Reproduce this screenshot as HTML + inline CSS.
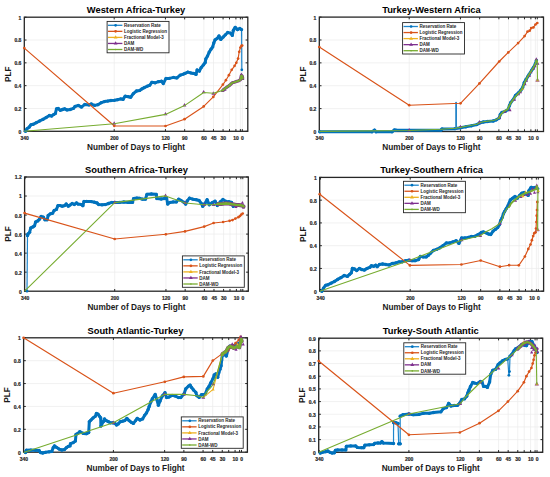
<!DOCTYPE html><html><head><meta charset="utf-8"><style>html,body{margin:0;padding:0;background:#fff;}svg{display:block;}text{font-family:"Liberation Sans",sans-serif;font-weight:bold;}</style></head><body>
<svg width="550" height="477" viewBox="0 0 550 477">
<rect width="550" height="477" fill="#fff"/>
<path d="M24.53,17.20V131.30M114.20,17.20V131.30M165.44,17.20V131.30M184.66,17.20V131.30M203.87,17.20V131.30M213.48,17.20V131.30M223.09,17.20V131.30M229.49,17.20V131.30M235.90,17.20V131.30M240.38,17.20V131.30M242.30,17.20V131.30M24.30,108.48H247.80M24.30,85.66H247.80M24.30,62.84H247.80M24.30,40.02H247.80" stroke="#ebebeb" stroke-width="0.7" fill="none"/>
<rect x="24.30" y="17.20" width="223.50" height="114.10" fill="none" stroke="#262626" stroke-width="1.3"/>
<path d="M24.53,131.30v-2.2M24.53,17.20v2.2M114.20,131.30v-2.2M114.20,17.20v2.2M165.44,131.30v-2.2M165.44,17.20v2.2M184.66,131.30v-2.2M184.66,17.20v2.2M203.87,131.30v-2.2M203.87,17.20v2.2M213.48,131.30v-2.2M213.48,17.20v2.2M223.09,131.30v-2.2M223.09,17.20v2.2M229.49,131.30v-2.2M229.49,17.20v2.2M235.90,131.30v-2.2M235.90,17.20v2.2M240.38,131.30v-2.2M240.38,17.20v2.2M242.30,131.30v-2.2M242.30,17.20v2.2M24.30,131.30h2.2M247.80,131.30h-2.2M24.30,108.48h2.2M247.80,108.48h-2.2M24.30,85.66h2.2M247.80,85.66h-2.2M24.30,62.84h2.2M247.80,62.84h-2.2M24.30,40.02h2.2M247.80,40.02h-2.2M24.30,17.20h2.2M247.80,17.20h-2.2" stroke="#262626" stroke-width="1.0" fill="none"/>
<polyline points="241.6,29.6 241.8,69.6" fill="none" stroke="#1f86cc" stroke-width="1.2" stroke-linejoin="round"/>
<polyline points="25.5,131.3 27.1,128.6 29.3,127.0 30.9,124.8 33.1,124.3 36.4,122.6 39.6,121.0 42.9,119.4 46.2,117.5 49.4,115.5 51.6,116.1 53.8,114.4 55.4,113.4 56.5,108.8 58.2,108.4 60.3,110.3 62.5,109.5 64.7,108.8 66.9,109.9 70.2,109.5 73.4,108.4 75.0,106.5 78.3,105.4 81.5,107.1 84.8,104.4 89.2,104.9 91.4,104.0 94.6,105.4 97.9,104.7 101.2,102.7 104.4,101.6 107.7,101.1 111.0,100.5 114.3,100.3 117.5,99.7 120.8,98.9 123.0,99.4 125.2,96.2 128.4,96.7 130.6,97.3 133.3,93.7 136.5,91.0 139.8,90.4 142.0,88.8 144.2,87.7 147.4,86.1 149.6,85.3 151.8,82.3 155.1,82.8 158.4,81.7 161.6,81.2 163.3,83.6 166.0,78.4 169.3,78.4 173.6,77.4 176.9,77.9 180.2,75.2 183.4,74.1 185.0,73.4 187.9,72.1 190.8,72.9 193.7,73.4 196.0,74.4 197.1,70.0 199.4,71.1 201.1,67.7 203.5,64.8 205.2,62.5 205.8,59.0 207.5,56.1 209.2,52.1 211.0,49.2 212.7,46.9 213.8,42.9 215.0,40.0 217.3,38.3 219.0,36.0 220.8,39.4 223.1,37.1 225.4,34.8 227.7,32.5 230.6,33.1 232.3,35.4 233.4,30.2 235.2,27.3 237.5,29.6 239.8,28.5 241.5,29.6" fill="none" stroke="#0072BD" stroke-width="3.0" stroke-linejoin="round" stroke-linecap="round"/>
<g fill="#0072BD"><circle cx="25.5" cy="131.3" r="1.65"/><circle cx="27.1" cy="128.6" r="1.65"/><circle cx="29.3" cy="127" r="1.65"/><circle cx="30.9" cy="124.8" r="1.65"/><circle cx="33.1" cy="124.3" r="1.65"/><circle cx="36.4" cy="122.6" r="1.65"/><circle cx="39.6" cy="121" r="1.65"/><circle cx="42.9" cy="119.4" r="1.65"/><circle cx="46.2" cy="117.5" r="1.65"/><circle cx="49.4" cy="115.5" r="1.65"/><circle cx="51.6" cy="116.1" r="1.65"/><circle cx="53.8" cy="114.4" r="1.65"/><circle cx="55.4" cy="113.4" r="1.65"/><circle cx="56.5" cy="108.8" r="1.65"/><circle cx="58.2" cy="108.4" r="1.65"/><circle cx="60.3" cy="110.3" r="1.65"/><circle cx="62.5" cy="109.5" r="1.65"/><circle cx="64.7" cy="108.8" r="1.65"/><circle cx="66.9" cy="109.9" r="1.65"/><circle cx="70.2" cy="109.5" r="1.65"/><circle cx="73.4" cy="108.4" r="1.65"/><circle cx="75" cy="106.5" r="1.65"/><circle cx="78.3" cy="105.4" r="1.65"/><circle cx="81.5" cy="107.1" r="1.65"/><circle cx="84.8" cy="104.4" r="1.65"/><circle cx="89.2" cy="104.9" r="1.65"/><circle cx="91.4" cy="104" r="1.65"/><circle cx="94.6" cy="105.4" r="1.65"/><circle cx="97.9" cy="104.7" r="1.65"/><circle cx="101.2" cy="102.7" r="1.65"/><circle cx="104.4" cy="101.6" r="1.65"/><circle cx="107.7" cy="101.1" r="1.65"/><circle cx="111" cy="100.5" r="1.65"/><circle cx="114.3" cy="100.3" r="1.65"/><circle cx="117.5" cy="99.7" r="1.65"/><circle cx="120.8" cy="98.9" r="1.65"/><circle cx="123" cy="99.4" r="1.65"/><circle cx="125.2" cy="96.2" r="1.65"/><circle cx="128.4" cy="96.7" r="1.65"/><circle cx="130.6" cy="97.3" r="1.65"/><circle cx="133.3" cy="93.7" r="1.65"/><circle cx="136.5" cy="91" r="1.65"/><circle cx="139.8" cy="90.4" r="1.65"/><circle cx="142" cy="88.8" r="1.65"/><circle cx="144.2" cy="87.7" r="1.65"/><circle cx="147.4" cy="86.1" r="1.65"/><circle cx="149.6" cy="85.3" r="1.65"/><circle cx="151.8" cy="82.3" r="1.65"/><circle cx="155.1" cy="82.8" r="1.65"/><circle cx="158.4" cy="81.7" r="1.65"/><circle cx="161.6" cy="81.2" r="1.65"/><circle cx="163.3" cy="83.6" r="1.65"/><circle cx="166" cy="78.4" r="1.65"/><circle cx="169.3" cy="78.4" r="1.65"/><circle cx="173.6" cy="77.4" r="1.65"/><circle cx="176.9" cy="77.9" r="1.65"/><circle cx="180.2" cy="75.2" r="1.65"/><circle cx="183.4" cy="74.1" r="1.65"/><circle cx="185" cy="73.4" r="1.65"/><circle cx="187.9" cy="72.1" r="1.65"/><circle cx="190.8" cy="72.9" r="1.65"/><circle cx="193.7" cy="73.4" r="1.65"/><circle cx="196" cy="74.4" r="1.65"/><circle cx="197.1" cy="70" r="1.65"/><circle cx="199.4" cy="71.1" r="1.65"/><circle cx="201.1" cy="67.7" r="1.65"/><circle cx="203.5" cy="64.8" r="1.65"/><circle cx="205.2" cy="62.5" r="1.65"/><circle cx="205.8" cy="59" r="1.65"/><circle cx="207.5" cy="56.1" r="1.65"/><circle cx="209.2" cy="52.1" r="1.65"/><circle cx="211" cy="49.2" r="1.65"/><circle cx="212.7" cy="46.9" r="1.65"/><circle cx="213.8" cy="42.9" r="1.65"/><circle cx="215" cy="40" r="1.65"/><circle cx="217.3" cy="38.3" r="1.65"/><circle cx="219" cy="36" r="1.65"/><circle cx="220.8" cy="39.4" r="1.65"/><circle cx="223.1" cy="37.1" r="1.65"/><circle cx="225.4" cy="34.8" r="1.65"/><circle cx="227.7" cy="32.5" r="1.65"/><circle cx="230.6" cy="33.1" r="1.65"/><circle cx="232.3" cy="35.4" r="1.65"/><circle cx="233.4" cy="30.2" r="1.65"/><circle cx="235.2" cy="27.3" r="1.65"/><circle cx="237.5" cy="29.6" r="1.65"/><circle cx="239.8" cy="28.5" r="1.65"/><circle cx="241.5" cy="29.6" r="1.65"/></g>
<circle cx="241.8" cy="69.8" r="1.4" fill="#0072BD"/>
<polyline points="24.3,48.1 114.2,125.8 165.5,126.0 184.5,119.2 203.7,106.4 213.3,96.9 222.9,84.6 225.9,80.2 228.9,75.2 231.7,69.8 234.6,65.8 236.3,62.8 238.1,58.6 239.2,51.8 240.4,47.5 241.5,45.8 242.2,45.5" fill="none" stroke="#D95319" stroke-width="1.15" stroke-linejoin="round"/>
<g fill="#D95319"><circle cx="24.3" cy="48.1" r="1.35"/><circle cx="114.2" cy="125.8" r="1.35"/><circle cx="165.5" cy="126" r="1.35"/><circle cx="184.5" cy="119.2" r="1.35"/><circle cx="203.7" cy="106.4" r="1.35"/><circle cx="213.3" cy="96.9" r="1.35"/><circle cx="222.9" cy="84.6" r="1.35"/><circle cx="225.9" cy="80.2" r="1.35"/><circle cx="228.9" cy="75.2" r="1.35"/><circle cx="231.7" cy="69.8" r="1.35"/><circle cx="234.6" cy="65.8" r="1.35"/><circle cx="236.3" cy="62.8" r="1.35"/><circle cx="238.1" cy="58.6" r="1.35"/><circle cx="239.2" cy="51.8" r="1.35"/><circle cx="240.4" cy="47.5" r="1.35"/><circle cx="241.5" cy="45.8" r="1.35"/><circle cx="242.2" cy="45.5" r="1.35"/></g>
<polyline points="222.7,90.4 225.0,88.5 228.0,86.4 230.5,84.5 232.2,82.8 234.3,82.2 236.4,81.5 238.9,80.7 240.6,79.6 241.0,77.1 241.4,75.5 242.3,76.3 242.7,78.4" fill="none" stroke="#7E2F8E" stroke-width="3.2" stroke-linejoin="round" stroke-linecap="round"/>
<g fill="#7E2F8E"><path d="M241.4,72.5L243.0,75.4L239.8,75.4Z"/><path d="M242.8,77.1L244.4,80.0L241.2,80.0Z"/><path d="M229.0,84.1L230.6,87.0L227.4,87.0Z"/><path d="M225.0,87.8L226.6,90.7L223.4,90.7Z"/></g>
<g fill="#EDB120"></g>
<g fill="#EDB120"></g>
<g fill="#7E2F8E"><path d="M114.2,121.2L116.1,124.6L112.3,124.6Z"/><path d="M165.5,111.9L167.4,115.3L163.6,115.3Z"/><path d="M184.5,103.0L186.4,106.4L182.6,106.4Z"/><path d="M203.7,89.9L205.6,93.3L201.8,93.3Z"/><path d="M213.3,91.3L215.2,94.7L211.4,94.7Z"/><path d="M222.7,88.3L224.6,91.7L220.8,91.7Z"/></g>
<polyline points="24.3,131.3 114.2,123.8 165.5,114.4 184.5,105.6 203.7,92.5 213.3,93.3 222.7,90.4" fill="none" stroke="#77AC30" stroke-width="1.1" stroke-linejoin="round"/>
<polyline points="222.7,90.4 225.0,88.5 228.0,86.4 230.5,84.5 232.2,82.8 234.3,82.2 236.4,81.5 238.9,80.7 240.6,79.6 241.0,77.1 241.4,75.5 242.3,76.3 242.7,78.4" fill="none" stroke="#77AC30" stroke-width="2.2" stroke-linejoin="round" stroke-linecap="round"/>
<g font-size="5" fill="#262626" stroke="#262626" stroke-width="0.18"><text x="24.73" y="139.60" text-anchor="middle">340</text><text x="114.40" y="139.60" text-anchor="middle">200</text><text x="165.64" y="139.60" text-anchor="middle">120</text><text x="184.86" y="139.60" text-anchor="middle">90</text><text x="204.07" y="139.60" text-anchor="middle">60</text><text x="213.68" y="139.60" text-anchor="middle">45</text><text x="223.28" y="139.60" text-anchor="middle">30</text><text x="236.09" y="139.60" text-anchor="middle">10</text><text x="242.50" y="139.60" text-anchor="middle">0</text><text x="21.40" y="133.75" text-anchor="end">0</text><text x="21.40" y="110.93" text-anchor="end">0.2</text><text x="21.40" y="88.11" text-anchor="end">0.4</text><text x="21.40" y="65.29" text-anchor="end">0.6</text><text x="21.40" y="42.47" text-anchor="end">0.8</text><text x="21.40" y="19.65" text-anchor="end">1</text></g>
<text x="136.05" y="13.20" font-size="9.35" text-anchor="middle" fill="#000">Western Africa-Turkey</text>
<text x="136.05" y="149.70" font-size="8.25" text-anchor="middle" fill="#1a1a1a">Number of Days to Flight</text>
<text x="0" y="0" font-size="8.2" text-anchor="middle" fill="#1a1a1a" transform="translate(10.70,74.25) rotate(-90)">PLF</text>
<rect x="107.1" y="21.4" width="61.9" height="31.4" fill="#fff" stroke="#262626" stroke-width="0.9"/>
<line x1="108.00" y1="25.30" x2="122.40" y2="25.30" stroke="#1f86cc" stroke-width="1.3"/>
<circle cx="115.60" cy="25.30" r="1.35" fill="#0072BD"/>
<text x="124.00" y="26.90" font-size="4.5" fill="#262626">Reservation Rate</text>
<line x1="108.00" y1="31.35" x2="122.40" y2="31.35" stroke="#D95319" stroke-width="1.3"/>
<circle cx="115.60" cy="31.35" r="1.35" fill="#D95319"/>
<text x="124.00" y="32.95" font-size="4.5" fill="#262626">Logistic Regression</text>
<line x1="108.00" y1="37.40" x2="122.40" y2="37.40" stroke="#EDB120" stroke-width="1.3"/>
<path d="M115.6,35.2L117.5,38.6L113.7,38.6Z" fill="#EDB120"/>
<text x="124.00" y="39.00" font-size="4.5" fill="#262626">Fractional Model-3</text>
<line x1="108.00" y1="43.45" x2="122.40" y2="43.45" stroke="#7E2F8E" stroke-width="1.3"/>
<path d="M115.6,41.2L117.5,44.6L113.7,44.6Z" fill="#7E2F8E"/>
<text x="124.00" y="45.05" font-size="4.5" fill="#262626">DAM</text>
<line x1="108.00" y1="49.50" x2="122.40" y2="49.50" stroke="#77AC30" stroke-width="1.3"/>
<circle cx="115.60" cy="49.50" r="0.8" fill="#77AC30"/>
<text x="124.00" y="51.10" font-size="4.5" fill="#262626">DAM-WD</text>
<path d="M319.53,17.10V131.50M409.20,17.10V131.50M460.44,17.10V131.50M479.65,17.10V131.50M498.87,17.10V131.50M508.48,17.10V131.50M518.08,17.10V131.50M524.49,17.10V131.50M530.89,17.10V131.50M535.38,17.10V131.50M537.30,17.10V131.50M319.30,108.62H543.50M319.30,85.74H543.50M319.30,62.86H543.50M319.30,39.98H543.50" stroke="#ebebeb" stroke-width="0.7" fill="none"/>
<rect x="319.30" y="17.10" width="224.20" height="114.40" fill="none" stroke="#262626" stroke-width="1.3"/>
<path d="M319.53,131.50v-2.2M319.53,17.10v2.2M409.20,131.50v-2.2M409.20,17.10v2.2M460.44,131.50v-2.2M460.44,17.10v2.2M479.65,131.50v-2.2M479.65,17.10v2.2M498.87,131.50v-2.2M498.87,17.10v2.2M508.48,131.50v-2.2M508.48,17.10v2.2M518.08,131.50v-2.2M518.08,17.10v2.2M524.49,131.50v-2.2M524.49,17.10v2.2M530.89,131.50v-2.2M530.89,17.10v2.2M535.38,131.50v-2.2M535.38,17.10v2.2M537.30,131.50v-2.2M537.30,17.10v2.2M319.30,131.50h2.2M543.50,131.50h-2.2M319.30,108.62h2.2M543.50,108.62h-2.2M319.30,85.74h2.2M543.50,85.74h-2.2M319.30,62.86h2.2M543.50,62.86h-2.2M319.30,39.98h2.2M543.50,39.98h-2.2M319.30,17.10h2.2M543.50,17.10h-2.2" stroke="#262626" stroke-width="1.0" fill="none"/>
<polyline points="319.8,131.8 372.0,131.8 374.6,130.1 376.0,131.8 392.0,131.8 394.4,130.0 396.0,130.2 441.0,130.2 442.0,128.9 455.0,128.7 460.5,127.8 465.9,126.8 471.4,125.8 476.8,124.6 479.5,123.0 483.4,122.0 487.7,121.5 493.2,121.0 496.4,119.8 499.2,118.0 500.3,114.5 501.9,112.4 505.2,111.3 508.0,109.6 509.5,105.5 510.6,102.7 513.4,99.3 515.5,95.5 518.4,93.0 521.0,90.0 522.6,87.6 524.3,82.5 526.0,79.5 527.7,76.7 529.2,74.3 531.8,70.1 533.4,67.6 535.5,63.4 536.4,60.5" fill="none" stroke="#0072BD" stroke-width="3.0" stroke-linejoin="round" stroke-linecap="round"/>
<g fill="#0072BD"><circle cx="319.8" cy="131.8" r="1.65"/><circle cx="372" cy="131.8" r="1.65"/><circle cx="374.6" cy="130.1" r="1.65"/><circle cx="376" cy="131.8" r="1.65"/><circle cx="392" cy="131.8" r="1.65"/><circle cx="394.4" cy="130" r="1.65"/><circle cx="396" cy="130.2" r="1.65"/><circle cx="441" cy="130.2" r="1.65"/><circle cx="442" cy="128.9" r="1.65"/><circle cx="455" cy="128.7" r="1.65"/><circle cx="460.5" cy="127.8" r="1.65"/><circle cx="465.9" cy="126.8" r="1.65"/><circle cx="471.4" cy="125.8" r="1.65"/><circle cx="476.8" cy="124.6" r="1.65"/><circle cx="479.5" cy="123" r="1.65"/><circle cx="483.4" cy="122" r="1.65"/><circle cx="487.7" cy="121.5" r="1.65"/><circle cx="493.2" cy="121" r="1.65"/><circle cx="496.4" cy="119.8" r="1.65"/><circle cx="499.2" cy="118" r="1.65"/><circle cx="500.3" cy="114.5" r="1.65"/><circle cx="501.9" cy="112.4" r="1.65"/><circle cx="505.2" cy="111.3" r="1.65"/><circle cx="508" cy="109.6" r="1.65"/><circle cx="509.5" cy="105.5" r="1.65"/><circle cx="510.6" cy="102.7" r="1.65"/><circle cx="513.4" cy="99.3" r="1.65"/><circle cx="515.5" cy="95.5" r="1.65"/><circle cx="518.4" cy="93" r="1.65"/><circle cx="521" cy="90" r="1.65"/><circle cx="522.6" cy="87.6" r="1.65"/><circle cx="524.3" cy="82.5" r="1.65"/><circle cx="526" cy="79.5" r="1.65"/><circle cx="527.7" cy="76.7" r="1.65"/><circle cx="529.2" cy="74.3" r="1.65"/><circle cx="531.8" cy="70.1" r="1.65"/><circle cx="533.4" cy="67.6" r="1.65"/><circle cx="535.5" cy="63.4" r="1.65"/><circle cx="536.4" cy="60.5" r="1.65"/></g>
<polyline points="456.1,129.0 456.1,102.6" fill="none" stroke="#1a7fc6" stroke-width="1.7" stroke-linecap="round"/>
<polyline points="319.3,47.0 409.2,105.2 460.5,103.3 479.5,83.4 499.2,61.5 508.3,52.4 518.1,43.1 524.6,36.1 527.5,31.7 529.7,30.7 531.2,28.1 533.4,27.4 535.5,24.5 537.3,23.0" fill="none" stroke="#D95319" stroke-width="1.15" stroke-linejoin="round"/>
<g fill="#D95319"><circle cx="319.3" cy="47" r="1.35"/><circle cx="409.2" cy="105.2" r="1.35"/><circle cx="460.5" cy="103.3" r="1.35"/><circle cx="479.5" cy="83.4" r="1.35"/><circle cx="499.2" cy="61.5" r="1.35"/><circle cx="508.3" cy="52.4" r="1.35"/><circle cx="518.1" cy="43.1" r="1.35"/><circle cx="524.6" cy="36.1" r="1.35"/><circle cx="527.5" cy="31.7" r="1.35"/><circle cx="529.7" cy="30.7" r="1.35"/><circle cx="531.2" cy="28.1" r="1.35"/><circle cx="533.4" cy="27.4" r="1.35"/><circle cx="535.5" cy="24.5" r="1.35"/><circle cx="537.3" cy="23" r="1.35"/></g>
<g fill="#7E2F8E"><path d="M505.0,109.8L506.6,112.7L503.4,112.7Z"/><path d="M510.0,108.3L511.6,111.2L508.4,111.2Z"/><path d="M514.5,97.8L516.1,100.7L512.9,100.7Z"/><path d="M518.5,92.3L520.1,95.2L516.9,95.2Z"/><path d="M520.5,90.3L522.1,93.2L518.9,93.2Z"/><path d="M525.0,82.3L526.6,85.2L523.4,85.2Z"/><path d="M526.5,78.8L528.1,81.7L524.9,81.7Z"/><path d="M529.5,73.8L531.1,76.7L527.9,76.7Z"/><path d="M531.0,70.3L532.6,73.2L529.4,73.2Z"/><path d="M533.5,66.8L535.1,69.7L531.9,69.7Z"/><path d="M535.0,64.3L536.6,67.2L533.4,67.2Z"/><path d="M536.3,57.3L537.9,60.2L534.7,60.2Z"/><path d="M537.8,61.8L539.4,64.7L536.2,64.7Z"/></g>
<g fill="#EDB120"><path d="M522.5,86.8L524.1,89.7L520.9,89.7Z"/></g>
<g fill="#EDB120"></g>
<g fill="#7E2F8E"><path d="M409.2,128.0L411.1,131.4L407.3,131.4Z"/><path d="M460.5,124.7L462.4,128.1L458.6,128.1Z"/><path d="M479.5,120.1L481.4,123.5L477.6,123.5Z"/><path d="M499.2,115.3L501.1,118.7L497.3,118.7Z"/></g>
<polyline points="319.3,131.4 409.2,130.5 441.0,129.2 455.0,128.2 460.5,127.4 465.9,126.3 471.4,125.3 476.8,124.2 479.5,122.7 483.4,121.8 487.7,121.1 493.2,120.5 496.4,119.4 499.2,117.8" fill="none" stroke="#77AC30" stroke-width="1.1" stroke-linejoin="round"/>
<polyline points="499.2,117.8 500.5,114.8 504.2,111.0 507.5,109.4 509.2,106.0 510.9,102.7 513.4,99.3 515.9,96.0 518.4,93.4 521.0,90.5 522.6,87.6 524.3,83.4 526.0,80.0 527.7,76.7 529.2,74.3 531.8,70.1 533.4,67.6 535.5,63.4 536.4,60.0 537.2,61.7" fill="none" stroke="#77AC30" stroke-width="1.7" stroke-linejoin="round" stroke-linecap="round"/>
<path d="M537.5,78.2L539.3,81.4L535.7,81.4Z" fill="#EDB120" stroke="#7E2F8E" stroke-width="0.5"/>
<path d="M537.2,61.7L537.5,80.1" stroke="#77AC30" stroke-width="1.1"/>
<circle cx="537.5" cy="80.1" r="0.7" fill="#77AC30"/>
<g font-size="5" fill="#262626" stroke="#262626" stroke-width="0.18"><text x="319.73" y="139.80" text-anchor="middle">340</text><text x="409.40" y="139.80" text-anchor="middle">200</text><text x="460.64" y="139.80" text-anchor="middle">120</text><text x="479.85" y="139.80" text-anchor="middle">90</text><text x="499.07" y="139.80" text-anchor="middle">60</text><text x="508.68" y="139.80" text-anchor="middle">45</text><text x="518.28" y="139.80" text-anchor="middle">30</text><text x="531.10" y="139.80" text-anchor="middle">10</text><text x="537.50" y="139.80" text-anchor="middle">0</text><text x="316.40" y="133.95" text-anchor="end">0</text><text x="316.40" y="111.07" text-anchor="end">0.2</text><text x="316.40" y="88.19" text-anchor="end">0.4</text><text x="316.40" y="65.31" text-anchor="end">0.6</text><text x="316.40" y="42.43" text-anchor="end">0.8</text><text x="316.40" y="19.55" text-anchor="end">1</text></g>
<text x="431.40" y="13.10" font-size="9.35" text-anchor="middle" fill="#000">Turkey-Western Africa</text>
<text x="431.40" y="149.90" font-size="8.25" text-anchor="middle" fill="#1a1a1a">Number of Days to Flight</text>
<text x="0" y="0" font-size="8.2" text-anchor="middle" fill="#1a1a1a" transform="translate(305.70,74.30) rotate(-90)">PLF</text>
<rect x="402.6" y="22.6" width="61.9" height="31.4" fill="#fff" stroke="#262626" stroke-width="0.9"/>
<line x1="403.50" y1="26.50" x2="417.90" y2="26.50" stroke="#1f86cc" stroke-width="1.3"/>
<circle cx="411.10" cy="26.50" r="1.35" fill="#0072BD"/>
<text x="419.50" y="28.10" font-size="4.5" fill="#262626">Reservation Rate</text>
<line x1="403.50" y1="32.55" x2="417.90" y2="32.55" stroke="#D95319" stroke-width="1.3"/>
<circle cx="411.10" cy="32.55" r="1.35" fill="#D95319"/>
<text x="419.50" y="34.15" font-size="4.5" fill="#262626">Logistic Regression</text>
<line x1="403.50" y1="38.60" x2="417.90" y2="38.60" stroke="#EDB120" stroke-width="1.3"/>
<path d="M411.1,36.4L413.0,39.8L409.2,39.8Z" fill="#EDB120"/>
<text x="419.50" y="40.20" font-size="4.5" fill="#262626">Fractional Model-3</text>
<line x1="403.50" y1="44.65" x2="417.90" y2="44.65" stroke="#7E2F8E" stroke-width="1.3"/>
<path d="M411.1,42.4L413.0,45.8L409.2,45.8Z" fill="#7E2F8E"/>
<text x="419.50" y="46.25" font-size="4.5" fill="#262626">DAM</text>
<line x1="403.50" y1="50.70" x2="417.90" y2="50.70" stroke="#77AC30" stroke-width="1.3"/>
<circle cx="411.10" cy="50.70" r="0.8" fill="#77AC30"/>
<text x="419.50" y="52.30" font-size="4.5" fill="#262626">DAM-WD</text>
<path d="M25.03,177.00V291.20M114.70,177.00V291.20M165.94,177.00V291.20M185.16,177.00V291.20M204.37,177.00V291.20M213.98,177.00V291.20M223.59,177.00V291.20M229.99,177.00V291.20M236.40,177.00V291.20M240.88,177.00V291.20M242.80,177.00V291.20M24.60,272.17H248.30M24.60,253.13H248.30M24.60,234.10H248.30M24.60,215.07H248.30M24.60,196.03H248.30" stroke="#ebebeb" stroke-width="0.7" fill="none"/>
<rect x="24.60" y="177.00" width="223.70" height="114.20" fill="none" stroke="#262626" stroke-width="1.3"/>
<path d="M25.03,291.20v-2.2M25.03,177.00v2.2M114.70,291.20v-2.2M114.70,177.00v2.2M165.94,291.20v-2.2M165.94,177.00v2.2M185.16,291.20v-2.2M185.16,177.00v2.2M204.37,291.20v-2.2M204.37,177.00v2.2M213.98,291.20v-2.2M213.98,177.00v2.2M223.59,291.20v-2.2M223.59,177.00v2.2M229.99,291.20v-2.2M229.99,177.00v2.2M236.40,291.20v-2.2M236.40,177.00v2.2M240.88,291.20v-2.2M240.88,177.00v2.2M242.80,291.20v-2.2M242.80,177.00v2.2M24.60,291.20h2.2M248.30,291.20h-2.2M24.60,272.17h2.2M248.30,272.17h-2.2M24.60,253.13h2.2M248.30,253.13h-2.2M24.60,234.10h2.2M248.30,234.10h-2.2M24.60,215.07h2.2M248.30,215.07h-2.2M24.60,196.03h2.2M248.30,196.03h-2.2M24.60,177.00h2.2M248.30,177.00h-2.2" stroke="#262626" stroke-width="1.0" fill="none"/>
<polyline points="27.0,291.3 27.5,235.6" fill="none" stroke="#1f86cc" stroke-width="1.2" stroke-linejoin="round"/>
<polyline points="27.5,235.6 28.0,234.0 29.6,232.3 30.7,228.0 32.9,226.9 34.5,225.8 35.6,222.0 37.8,220.9 39.4,219.3 41.1,216.5 43.3,217.1 44.9,219.8 47.1,219.8 48.2,215.4 50.4,213.8 52.5,213.3 54.2,210.5 56.4,209.4 58.0,205.6 60.2,205.6 62.3,206.2 64.5,205.6 66.2,204.0 68.3,206.2 70.0,205.1 72.2,203.5 74.3,204.5 76.5,202.9 78.0,204.1 81.3,204.6 82.9,205.7 84.0,201.4 86.7,201.4 91.1,201.6 94.4,202.2 97.1,203.0 98.7,204.6 102.0,204.8 105.3,204.6 108.5,203.5 111.8,202.4 115.1,202.4 119.4,202.4 123.8,201.9 128.2,202.4 132.5,202.4 133.6,198.6 136.9,198.1 139.4,198.3 142.6,199.2 145.4,199.2 147.0,194.3 151.4,193.9 156.3,194.3 156.8,198.6 161.2,199.0 164.4,198.6 166.6,198.1 167.7,204.1 169.9,202.4 173.2,201.9 176.4,201.9 178.6,199.2 180.8,200.3 184.1,202.4 185.7,204.1 187.3,200.8 189.5,198.1 192.8,199.2 196.2,199.7 199.1,200.5 201.3,203.4 202.7,206.3 204.9,203.4 207.1,199.7 209.3,204.8 212.2,202.6 215.1,201.2 217.3,205.5 218.5,203.5 220.7,201.5 222.9,199.5 226.2,201.5 228.9,201.7 231.6,202.5 233.3,206.4" fill="none" stroke="#0072BD" stroke-width="3.0" stroke-linejoin="round" stroke-linecap="round"/>
<g fill="#0072BD"><circle cx="27.5" cy="235.6" r="1.65"/><circle cx="28" cy="234" r="1.65"/><circle cx="29.6" cy="232.3" r="1.65"/><circle cx="30.7" cy="228" r="1.65"/><circle cx="32.9" cy="226.9" r="1.65"/><circle cx="34.5" cy="225.8" r="1.65"/><circle cx="35.6" cy="222" r="1.65"/><circle cx="37.8" cy="220.9" r="1.65"/><circle cx="39.4" cy="219.3" r="1.65"/><circle cx="41.1" cy="216.5" r="1.65"/><circle cx="43.3" cy="217.1" r="1.65"/><circle cx="44.9" cy="219.8" r="1.65"/><circle cx="47.1" cy="219.8" r="1.65"/><circle cx="48.2" cy="215.4" r="1.65"/><circle cx="50.4" cy="213.8" r="1.65"/><circle cx="52.5" cy="213.3" r="1.65"/><circle cx="54.2" cy="210.5" r="1.65"/><circle cx="56.4" cy="209.4" r="1.65"/><circle cx="58" cy="205.6" r="1.65"/><circle cx="60.2" cy="205.6" r="1.65"/><circle cx="62.3" cy="206.2" r="1.65"/><circle cx="64.5" cy="205.6" r="1.65"/><circle cx="66.2" cy="204" r="1.65"/><circle cx="68.3" cy="206.2" r="1.65"/><circle cx="70" cy="205.1" r="1.65"/><circle cx="72.2" cy="203.5" r="1.65"/><circle cx="74.3" cy="204.5" r="1.65"/><circle cx="76.5" cy="202.9" r="1.65"/><circle cx="78" cy="204.1" r="1.65"/><circle cx="81.3" cy="204.6" r="1.65"/><circle cx="82.9" cy="205.7" r="1.65"/><circle cx="84" cy="201.4" r="1.65"/><circle cx="86.7" cy="201.4" r="1.65"/><circle cx="91.1" cy="201.6" r="1.65"/><circle cx="94.4" cy="202.2" r="1.65"/><circle cx="97.1" cy="203" r="1.65"/><circle cx="98.7" cy="204.6" r="1.65"/><circle cx="102" cy="204.8" r="1.65"/><circle cx="105.3" cy="204.6" r="1.65"/><circle cx="108.5" cy="203.5" r="1.65"/><circle cx="111.8" cy="202.4" r="1.65"/><circle cx="115.1" cy="202.4" r="1.65"/><circle cx="119.4" cy="202.4" r="1.65"/><circle cx="123.8" cy="201.9" r="1.65"/><circle cx="128.2" cy="202.4" r="1.65"/><circle cx="132.5" cy="202.4" r="1.65"/><circle cx="133.6" cy="198.6" r="1.65"/><circle cx="136.9" cy="198.1" r="1.65"/><circle cx="139.4" cy="198.3" r="1.65"/><circle cx="142.6" cy="199.2" r="1.65"/><circle cx="145.4" cy="199.2" r="1.65"/><circle cx="147" cy="194.3" r="1.65"/><circle cx="151.4" cy="193.9" r="1.65"/><circle cx="156.3" cy="194.3" r="1.65"/><circle cx="156.8" cy="198.6" r="1.65"/><circle cx="161.2" cy="199" r="1.65"/><circle cx="164.4" cy="198.6" r="1.65"/><circle cx="166.6" cy="198.1" r="1.65"/><circle cx="167.7" cy="204.1" r="1.65"/><circle cx="169.9" cy="202.4" r="1.65"/><circle cx="173.2" cy="201.9" r="1.65"/><circle cx="176.4" cy="201.9" r="1.65"/><circle cx="178.6" cy="199.2" r="1.65"/><circle cx="180.8" cy="200.3" r="1.65"/><circle cx="184.1" cy="202.4" r="1.65"/><circle cx="185.7" cy="204.1" r="1.65"/><circle cx="187.3" cy="200.8" r="1.65"/><circle cx="189.5" cy="198.1" r="1.65"/><circle cx="192.8" cy="199.2" r="1.65"/><circle cx="196.2" cy="199.7" r="1.65"/><circle cx="199.1" cy="200.5" r="1.65"/><circle cx="201.3" cy="203.4" r="1.65"/><circle cx="202.7" cy="206.3" r="1.65"/><circle cx="204.9" cy="203.4" r="1.65"/><circle cx="207.1" cy="199.7" r="1.65"/><circle cx="209.3" cy="204.8" r="1.65"/><circle cx="212.2" cy="202.6" r="1.65"/><circle cx="215.1" cy="201.2" r="1.65"/><circle cx="217.3" cy="205.5" r="1.65"/><circle cx="218.5" cy="203.5" r="1.65"/><circle cx="220.7" cy="201.5" r="1.65"/><circle cx="222.9" cy="199.5" r="1.65"/><circle cx="226.2" cy="201.5" r="1.65"/><circle cx="228.9" cy="201.7" r="1.65"/><circle cx="231.6" cy="202.5" r="1.65"/><circle cx="233.3" cy="206.4" r="1.65"/></g>
<circle cx="27" cy="291.2" r="1.4" fill="#0072BD"/>
<polyline points="24.6,213.1 114.7,239.0 165.8,234.3 185.0,231.4 204.2,226.6 213.6,223.0 223.1,222.0 229.6,220.8 232.5,220.1 235.4,218.6 238.4,217.2 240.0,216.0 241.3,214.6 242.7,213.5" fill="none" stroke="#D95319" stroke-width="1.15" stroke-linejoin="round"/>
<g fill="#D95319"><circle cx="24.6" cy="213.1" r="1.35"/><circle cx="114.7" cy="239" r="1.35"/><circle cx="165.8" cy="234.3" r="1.35"/><circle cx="185" cy="231.4" r="1.35"/><circle cx="204.2" cy="226.6" r="1.35"/><circle cx="213.6" cy="223" r="1.35"/><circle cx="223.1" cy="222" r="1.35"/><circle cx="229.6" cy="220.8" r="1.35"/><circle cx="232.5" cy="220.1" r="1.35"/><circle cx="235.4" cy="218.6" r="1.35"/><circle cx="238.4" cy="217.2" r="1.35"/><circle cx="240" cy="216" r="1.35"/><circle cx="241.3" cy="214.6" r="1.35"/><circle cx="242.7" cy="213.5" r="1.35"/></g>
<polyline points="218.0,203.9 221.3,203.9 224.5,203.6 228.9,203.6 232.2,204.2 235.5,204.7 238.7,205.0 242.0,205.5 243.6,206.4" fill="none" stroke="#7E2F8E" stroke-width="4.0" stroke-linejoin="round" stroke-linecap="round"/>
<g fill="#7E2F8E"><path d="M242.4,200.9L244.0,203.8L240.8,203.8Z"/><path d="M243.4,205.5L245.0,208.4L241.8,208.4Z"/><path d="M236.0,205.1L237.6,208.0L234.4,208.0Z"/></g>
<g fill="#EDB120"><path d="M226.0,201.6L227.6,204.5L224.4,204.5Z"/></g>
<g fill="#EDB120"></g>
<g fill="#7E2F8E"><path d="M114.7,200.3L116.6,203.7L112.8,203.7Z"/><path d="M165.5,193.6L167.4,197.0L163.6,197.0Z"/><path d="M185.2,200.7L187.1,204.1L183.3,204.1Z"/><path d="M204.2,202.5L206.1,205.9L202.3,205.9Z"/><path d="M213.6,202.5L215.5,205.9L211.7,205.9Z"/></g>
<polyline points="24.6,291.2 114.7,202.6 165.5,195.9 185.2,203.0 204.2,204.8 213.6,204.8 218.0,203.9" fill="none" stroke="#77AC30" stroke-width="1.1" stroke-linejoin="round"/>
<polyline points="218.0,203.9 221.3,203.9 224.5,203.6 228.9,203.6 232.2,204.2 235.5,204.7 238.7,205.0 242.0,205.5 243.6,206.4" fill="none" stroke="#77AC30" stroke-width="2.6" stroke-linejoin="round" stroke-linecap="round"/>
<g font-size="5" fill="#262626" stroke="#262626" stroke-width="0.18"><text x="25.23" y="299.50" text-anchor="middle">340</text><text x="114.90" y="299.50" text-anchor="middle">200</text><text x="166.14" y="299.50" text-anchor="middle">120</text><text x="185.36" y="299.50" text-anchor="middle">90</text><text x="204.57" y="299.50" text-anchor="middle">60</text><text x="214.18" y="299.50" text-anchor="middle">45</text><text x="223.78" y="299.50" text-anchor="middle">30</text><text x="236.59" y="299.50" text-anchor="middle">10</text><text x="243.00" y="299.50" text-anchor="middle">0</text><text x="21.70" y="293.65" text-anchor="end">0</text><text x="21.70" y="274.62" text-anchor="end">0.2</text><text x="21.70" y="255.58" text-anchor="end">0.4</text><text x="21.70" y="236.55" text-anchor="end">0.6</text><text x="21.70" y="217.52" text-anchor="end">0.8</text><text x="21.70" y="198.48" text-anchor="end">1</text><text x="21.70" y="179.45" text-anchor="end">1.2</text></g>
<text x="136.45" y="173.00" font-size="9.35" text-anchor="middle" fill="#000">Southern Africa-Turkey</text>
<text x="136.45" y="309.60" font-size="8.25" text-anchor="middle" fill="#1a1a1a">Number of Days to Flight</text>
<text x="0" y="0" font-size="8.2" text-anchor="middle" fill="#1a1a1a" transform="translate(11.00,234.10) rotate(-90)">PLF</text>
<rect x="182.4" y="255.9" width="61.9" height="31.4" fill="#fff" stroke="#262626" stroke-width="0.9"/>
<line x1="183.30" y1="259.80" x2="197.70" y2="259.80" stroke="#1f86cc" stroke-width="1.3"/>
<circle cx="190.90" cy="259.80" r="1.35" fill="#0072BD"/>
<text x="199.30" y="261.40" font-size="4.5" fill="#262626">Reservation Rate</text>
<line x1="183.30" y1="265.85" x2="197.70" y2="265.85" stroke="#D95319" stroke-width="1.3"/>
<circle cx="190.90" cy="265.85" r="1.35" fill="#D95319"/>
<text x="199.30" y="267.45" font-size="4.5" fill="#262626">Logistic Regression</text>
<line x1="183.30" y1="271.90" x2="197.70" y2="271.90" stroke="#EDB120" stroke-width="1.3"/>
<path d="M190.9,269.7L192.8,273.1L189.0,273.1Z" fill="#EDB120"/>
<text x="199.30" y="273.50" font-size="4.5" fill="#262626">Fractional Model-3</text>
<line x1="183.30" y1="277.95" x2="197.70" y2="277.95" stroke="#7E2F8E" stroke-width="1.3"/>
<path d="M190.9,275.8L192.8,279.1L189.0,279.1Z" fill="#7E2F8E"/>
<text x="199.30" y="279.55" font-size="4.5" fill="#262626">DAM</text>
<line x1="183.30" y1="284.00" x2="197.70" y2="284.00" stroke="#77AC30" stroke-width="1.3"/>
<circle cx="190.90" cy="284.00" r="0.8" fill="#77AC30"/>
<text x="199.30" y="285.60" font-size="4.5" fill="#262626">DAM-WD</text>
<path d="M320.53,177.40V291.20M410.20,177.40V291.20M461.44,177.40V291.20M480.65,177.40V291.20M499.87,177.40V291.20M509.48,177.40V291.20M519.08,177.40V291.20M525.49,177.40V291.20M531.89,177.40V291.20M536.38,177.40V291.20M538.30,177.40V291.20M319.70,268.44H543.60M319.70,245.68H543.60M319.70,222.92H543.60M319.70,200.16H543.60" stroke="#ebebeb" stroke-width="0.7" fill="none"/>
<rect x="319.70" y="177.40" width="223.90" height="113.80" fill="none" stroke="#262626" stroke-width="1.3"/>
<path d="M320.53,291.20v-2.2M320.53,177.40v2.2M410.20,291.20v-2.2M410.20,177.40v2.2M461.44,291.20v-2.2M461.44,177.40v2.2M480.65,291.20v-2.2M480.65,177.40v2.2M499.87,291.20v-2.2M499.87,177.40v2.2M509.48,291.20v-2.2M509.48,177.40v2.2M519.08,291.20v-2.2M519.08,177.40v2.2M525.49,291.20v-2.2M525.49,177.40v2.2M531.89,291.20v-2.2M531.89,177.40v2.2M536.38,291.20v-2.2M536.38,177.40v2.2M538.30,291.20v-2.2M538.30,177.40v2.2M319.70,291.20h2.2M543.60,291.20h-2.2M319.70,268.44h2.2M543.60,268.44h-2.2M319.70,245.68h2.2M543.60,245.68h-2.2M319.70,222.92h2.2M543.60,222.92h-2.2M319.70,200.16h2.2M543.60,200.16h-2.2M319.70,177.40h2.2M543.60,177.40h-2.2" stroke="#262626" stroke-width="1.0" fill="none"/>
<polyline points="321.8,291.3 323.5,288.1 325.6,285.3 327.8,284.8 331.1,283.2 334.4,281.5 337.6,279.4 340.9,277.7 344.2,275.5 347.4,276.4 349.6,274.4 351.3,272.8 352.4,268.4 354.5,269.0 356.7,270.6 359.4,268.4 361.6,269.5 364.3,270.1 367.1,268.4 369.8,267.4 371.4,265.7 373.6,266.3 375.8,265.2 377.2,266.7 379.4,264.5 382.6,264.0 385.9,264.5 389.2,264.9 392.4,263.4 395.7,262.9 399.0,261.8 402.3,261.8 405.5,260.7 408.8,260.2 412.1,260.7 415.3,260.7 418.6,259.6 420.3,256.4 423.0,256.9 426.3,256.9 428.4,255.3 430.6,253.1 433.3,250.5 436.5,249.4 439.8,247.8 443.1,245.6 446.4,242.9 449.6,242.9 452.9,241.8 456.2,240.7 458.9,243.4 461.6,238.0 464.9,238.0 468.2,237.4 471.4,236.4 474.7,236.4 478.0,234.7 481.3,232.5 483.4,232.0 486.7,233.1 488.5,234.0 490.8,234.5 493.1,231.1 495.4,229.4 497.7,227.6 499.4,224.7 500.6,220.7 502.3,217.3 503.4,213.8 504.6,211.5 506.3,208.6 508.0,205.7 509.2,202.9 510.3,200.0 512.6,198.2 515.0,196.5 517.3,198.2 519.6,195.4 521.9,193.1 524.2,192.5 526.5,194.2 528.2,195.4 528.8,190.8 531.1,187.3 533.4,187.9 535.0,187.5 537.7,188.8" fill="none" stroke="#0072BD" stroke-width="3.0" stroke-linejoin="round" stroke-linecap="round"/>
<g fill="#0072BD"><circle cx="321.8" cy="291.3" r="1.65"/><circle cx="323.5" cy="288.1" r="1.65"/><circle cx="325.6" cy="285.3" r="1.65"/><circle cx="327.8" cy="284.8" r="1.65"/><circle cx="331.1" cy="283.2" r="1.65"/><circle cx="334.4" cy="281.5" r="1.65"/><circle cx="337.6" cy="279.4" r="1.65"/><circle cx="340.9" cy="277.7" r="1.65"/><circle cx="344.2" cy="275.5" r="1.65"/><circle cx="347.4" cy="276.4" r="1.65"/><circle cx="349.6" cy="274.4" r="1.65"/><circle cx="351.3" cy="272.8" r="1.65"/><circle cx="352.4" cy="268.4" r="1.65"/><circle cx="354.5" cy="269" r="1.65"/><circle cx="356.7" cy="270.6" r="1.65"/><circle cx="359.4" cy="268.4" r="1.65"/><circle cx="361.6" cy="269.5" r="1.65"/><circle cx="364.3" cy="270.1" r="1.65"/><circle cx="367.1" cy="268.4" r="1.65"/><circle cx="369.8" cy="267.4" r="1.65"/><circle cx="371.4" cy="265.7" r="1.65"/><circle cx="373.6" cy="266.3" r="1.65"/><circle cx="375.8" cy="265.2" r="1.65"/><circle cx="377.2" cy="266.7" r="1.65"/><circle cx="379.4" cy="264.5" r="1.65"/><circle cx="382.6" cy="264" r="1.65"/><circle cx="385.9" cy="264.5" r="1.65"/><circle cx="389.2" cy="264.9" r="1.65"/><circle cx="392.4" cy="263.4" r="1.65"/><circle cx="395.7" cy="262.9" r="1.65"/><circle cx="399" cy="261.8" r="1.65"/><circle cx="402.3" cy="261.8" r="1.65"/><circle cx="405.5" cy="260.7" r="1.65"/><circle cx="408.8" cy="260.2" r="1.65"/><circle cx="412.1" cy="260.7" r="1.65"/><circle cx="415.3" cy="260.7" r="1.65"/><circle cx="418.6" cy="259.6" r="1.65"/><circle cx="420.3" cy="256.4" r="1.65"/><circle cx="423" cy="256.9" r="1.65"/><circle cx="426.3" cy="256.9" r="1.65"/><circle cx="428.4" cy="255.3" r="1.65"/><circle cx="430.6" cy="253.1" r="1.65"/><circle cx="433.3" cy="250.5" r="1.65"/><circle cx="436.5" cy="249.4" r="1.65"/><circle cx="439.8" cy="247.8" r="1.65"/><circle cx="443.1" cy="245.6" r="1.65"/><circle cx="446.4" cy="242.9" r="1.65"/><circle cx="449.6" cy="242.9" r="1.65"/><circle cx="452.9" cy="241.8" r="1.65"/><circle cx="456.2" cy="240.7" r="1.65"/><circle cx="458.9" cy="243.4" r="1.65"/><circle cx="461.6" cy="238" r="1.65"/><circle cx="464.9" cy="238" r="1.65"/><circle cx="468.2" cy="237.4" r="1.65"/><circle cx="471.4" cy="236.4" r="1.65"/><circle cx="474.7" cy="236.4" r="1.65"/><circle cx="478" cy="234.7" r="1.65"/><circle cx="481.3" cy="232.5" r="1.65"/><circle cx="483.4" cy="232" r="1.65"/><circle cx="486.7" cy="233.1" r="1.65"/><circle cx="488.5" cy="234" r="1.65"/><circle cx="490.8" cy="234.5" r="1.65"/><circle cx="493.1" cy="231.1" r="1.65"/><circle cx="495.4" cy="229.4" r="1.65"/><circle cx="497.7" cy="227.6" r="1.65"/><circle cx="499.4" cy="224.7" r="1.65"/><circle cx="500.6" cy="220.7" r="1.65"/><circle cx="502.3" cy="217.3" r="1.65"/><circle cx="503.4" cy="213.8" r="1.65"/><circle cx="504.6" cy="211.5" r="1.65"/><circle cx="506.3" cy="208.6" r="1.65"/><circle cx="508" cy="205.7" r="1.65"/><circle cx="509.2" cy="202.9" r="1.65"/><circle cx="510.3" cy="200" r="1.65"/><circle cx="512.6" cy="198.2" r="1.65"/><circle cx="515" cy="196.5" r="1.65"/><circle cx="517.3" cy="198.2" r="1.65"/><circle cx="519.6" cy="195.4" r="1.65"/><circle cx="521.9" cy="193.1" r="1.65"/><circle cx="524.2" cy="192.5" r="1.65"/><circle cx="526.5" cy="194.2" r="1.65"/><circle cx="528.2" cy="195.4" r="1.65"/><circle cx="528.8" cy="190.8" r="1.65"/><circle cx="531.1" cy="187.3" r="1.65"/><circle cx="533.4" cy="187.9" r="1.65"/><circle cx="535" cy="187.5" r="1.65"/><circle cx="537.7" cy="188.8" r="1.65"/></g>
<polyline points="319.7,194.2 409.9,265.4 461.4,264.5 480.7,260.5 499.9,266.7 509.1,265.2 518.8,265.3 524.9,256.5 528.3,248.9 530.5,244.5 531.9,240.2 533.2,236.0 534.3,233.2 535.6,232.3 536.0,228.5 536.4,222.0 536.7,215.7 537.0,210.0 537.3,201.9" fill="none" stroke="#D95319" stroke-width="1.15" stroke-linejoin="round"/>
<g fill="#D95319"><circle cx="319.7" cy="194.2" r="1.35"/><circle cx="409.9" cy="265.4" r="1.35"/><circle cx="461.4" cy="264.5" r="1.35"/><circle cx="480.7" cy="260.5" r="1.35"/><circle cx="499.9" cy="266.7" r="1.35"/><circle cx="509.1" cy="265.2" r="1.35"/><circle cx="518.8" cy="265.3" r="1.35"/><circle cx="524.9" cy="256.5" r="1.35"/><circle cx="528.3" cy="248.9" r="1.35"/><circle cx="530.5" cy="244.5" r="1.35"/><circle cx="531.9" cy="240.2" r="1.35"/><circle cx="533.2" cy="236" r="1.35"/><circle cx="534.3" cy="233.2" r="1.35"/><circle cx="535.6" cy="232.3" r="1.35"/><circle cx="536" cy="228.5" r="1.35"/><circle cx="536.4" cy="222" r="1.35"/><circle cx="536.7" cy="215.7" r="1.35"/><circle cx="537" cy="210" r="1.35"/><circle cx="537.3" cy="201.9" r="1.35"/></g>
<g fill="#7E2F8E"><path d="M509.5,203.3L511.1,206.2L507.9,206.2Z"/><path d="M515.5,198.8L517.1,201.7L513.9,201.7Z"/><path d="M521.0,195.1L522.6,198.0L519.4,198.0Z"/><path d="M524.0,193.1L525.6,196.0L522.4,196.0Z"/><path d="M527.5,192.8L529.1,195.7L525.9,195.7Z"/><path d="M530.5,191.8L532.1,194.7L528.9,194.7Z"/><path d="M532.5,187.1L534.1,190.0L530.9,190.0Z"/><path d="M534.5,190.8L536.1,193.7L532.9,193.7Z"/><path d="M536.8,183.5L538.4,186.4L535.2,186.4Z"/><path d="M537.8,190.3L539.4,193.2L536.2,193.2Z"/><path d="M535.5,186.3L537.1,189.2L533.9,189.2Z"/></g>
<g fill="#EDB120"><path d="M523.0,194.3L524.6,197.2L521.4,197.2Z"/><path d="M525.5,190.5L527.1,193.4L523.9,193.4Z"/><path d="M538.2,189.1L539.8,192.0L536.6,192.0Z"/></g>
<g fill="#EDB120"></g>
<g fill="#7E2F8E"><path d="M409.9,257.9L411.8,261.3L408.0,261.3Z"/><path d="M461.6,237.9L463.5,241.3L459.7,241.3Z"/><path d="M480.2,233.5L482.1,236.9L478.3,236.9Z"/><path d="M499.9,221.4L501.8,224.8L498.0,224.8Z"/></g>
<polyline points="319.7,291.3 409.9,260.2 461.6,240.2 480.2,235.8 485.0,232.2 491.9,228.8 498.8,224.2 502.3,219.6 503.7,213.8 507.4,207.9 509.2,206.9" fill="none" stroke="#77AC30" stroke-width="1.1" stroke-linejoin="round"/>
<polyline points="509.2,206.9 511.0,203.5 514.7,199.9 518.4,196.9 522.1,194.7 525.7,193.2 529.4,191.8 533.1,190.3 536.0,189.2 536.8,186.0 537.9,189.6" fill="none" stroke="#77AC30" stroke-width="1.9" stroke-linejoin="round" stroke-linecap="round"/>
<path d="M537.6,227.7L539.4,230.9L535.8,230.9Z" fill="#EDB120" stroke="#7E2F8E" stroke-width="0.5"/>
<path d="M537.9,189.6L537.6,229.6" stroke="#77AC30" stroke-width="1.1"/>
<circle cx="537.6" cy="229.6" r="0.7" fill="#77AC30"/>
<g font-size="5" fill="#262626" stroke="#262626" stroke-width="0.18"><text x="320.73" y="299.50" text-anchor="middle">340</text><text x="410.40" y="299.50" text-anchor="middle">200</text><text x="461.64" y="299.50" text-anchor="middle">120</text><text x="480.85" y="299.50" text-anchor="middle">90</text><text x="500.07" y="299.50" text-anchor="middle">60</text><text x="509.68" y="299.50" text-anchor="middle">45</text><text x="519.28" y="299.50" text-anchor="middle">30</text><text x="532.10" y="299.50" text-anchor="middle">10</text><text x="538.50" y="299.50" text-anchor="middle">0</text><text x="316.80" y="293.65" text-anchor="end">0</text><text x="316.80" y="270.89" text-anchor="end">0.2</text><text x="316.80" y="248.13" text-anchor="end">0.4</text><text x="316.80" y="225.37" text-anchor="end">0.6</text><text x="316.80" y="202.61" text-anchor="end">0.8</text><text x="316.80" y="179.85" text-anchor="end">1</text></g>
<text x="431.65" y="173.40" font-size="9.35" text-anchor="middle" fill="#000">Turkey-Southern Africa</text>
<text x="431.65" y="309.60" font-size="8.25" text-anchor="middle" fill="#1a1a1a">Number of Days to Flight</text>
<text x="0" y="0" font-size="8.2" text-anchor="middle" fill="#1a1a1a" transform="translate(306.10,234.30) rotate(-90)">PLF</text>
<rect x="403.5" y="181.3" width="61.9" height="31.4" fill="#fff" stroke="#262626" stroke-width="0.9"/>
<line x1="404.40" y1="185.20" x2="418.80" y2="185.20" stroke="#1f86cc" stroke-width="1.3"/>
<circle cx="412.00" cy="185.20" r="1.35" fill="#0072BD"/>
<text x="420.40" y="186.80" font-size="4.5" fill="#262626">Reservation Rate</text>
<line x1="404.40" y1="191.25" x2="418.80" y2="191.25" stroke="#D95319" stroke-width="1.3"/>
<circle cx="412.00" cy="191.25" r="1.35" fill="#D95319"/>
<text x="420.40" y="192.85" font-size="4.5" fill="#262626">Logistic Regression</text>
<line x1="404.40" y1="197.30" x2="418.80" y2="197.30" stroke="#EDB120" stroke-width="1.3"/>
<path d="M412.0,195.1L413.9,198.5L410.1,198.5Z" fill="#EDB120"/>
<text x="420.40" y="198.90" font-size="4.5" fill="#262626">Fractional Model-3</text>
<line x1="404.40" y1="203.35" x2="418.80" y2="203.35" stroke="#7E2F8E" stroke-width="1.3"/>
<path d="M412.0,201.2L413.9,204.6L410.1,204.6Z" fill="#7E2F8E"/>
<text x="420.40" y="204.95" font-size="4.5" fill="#262626">DAM</text>
<line x1="404.40" y1="209.40" x2="418.80" y2="209.40" stroke="#77AC30" stroke-width="1.3"/>
<circle cx="412.00" cy="209.40" r="0.8" fill="#77AC30"/>
<text x="420.40" y="211.00" font-size="4.5" fill="#262626">DAM-WD</text>
<path d="M23.73,337.80V452.20M113.40,337.80V452.20M164.64,337.80V452.20M183.86,337.80V452.20M203.07,337.80V452.20M212.68,337.80V452.20M222.28,337.80V452.20M228.69,337.80V452.20M235.09,337.80V452.20M239.58,337.80V452.20M241.50,337.80V452.20M23.60,429.32H247.40M23.60,406.44H247.40M23.60,383.56H247.40M23.60,360.68H247.40" stroke="#ebebeb" stroke-width="0.7" fill="none"/>
<rect x="23.60" y="337.80" width="223.80" height="114.40" fill="none" stroke="#262626" stroke-width="1.3"/>
<path d="M23.73,452.20v-2.2M23.73,337.80v2.2M113.40,452.20v-2.2M113.40,337.80v2.2M164.64,452.20v-2.2M164.64,337.80v2.2M183.86,452.20v-2.2M183.86,337.80v2.2M203.07,452.20v-2.2M203.07,337.80v2.2M212.68,452.20v-2.2M212.68,337.80v2.2M222.28,452.20v-2.2M222.28,337.80v2.2M228.69,452.20v-2.2M228.69,337.80v2.2M235.09,452.20v-2.2M235.09,337.80v2.2M239.58,452.20v-2.2M239.58,337.80v2.2M241.50,452.20v-2.2M241.50,337.80v2.2M23.60,452.20h2.2M247.40,452.20h-2.2M23.60,429.32h2.2M247.40,429.32h-2.2M23.60,406.44h2.2M247.40,406.44h-2.2M23.60,383.56h2.2M247.40,383.56h-2.2M23.60,360.68h2.2M247.40,360.68h-2.2M23.60,337.80h2.2M247.40,337.80h-2.2" stroke="#262626" stroke-width="1.0" fill="none"/>
<polyline points="25.5,452.5 26.4,450.2 30.9,450.1 35.5,450.3 39.1,450.5 40.5,452.5 42.7,453.0 45.5,452.3 49.1,451.8 51.8,451.4 53.2,447.7 54.5,445.9 56.4,447.3 59.1,449.1 61.8,450.0 64.5,449.5 66.4,447.7 68.2,446.4 70.0,445.9 70.5,443.7 73.3,442.6 75.4,441.0 76.0,434.4 77.6,433.6 79.8,431.7 83.3,433.4 86.5,433.7 88.7,432.6 89.3,421.7 90.9,420.1 93.1,417.9 95.3,416.3 96.4,413.5 98.0,414.1 99.6,416.3 100.7,417.9 100.9,426.1 101.8,423.9 103.4,421.7 104.5,419.0 106.2,420.6 108.4,421.7 110.5,422.8 112.7,422.8 114.9,423.4 116.5,425.0 118.2,423.9 120.3,421.7 122.5,421.2 124.7,420.6 126.9,418.4 129.1,420.6 131.3,422.3 133.4,423.4 135.6,420.6 137.2,418.3 139.9,420.0 142.6,418.9 144.8,415.1 146.5,412.9 148.1,409.6 149.2,406.4 150.8,402.0 152.4,398.7 155.2,394.4 156.8,399.3 158.4,405.3 160.1,400.9 162.3,396.0 165.0,392.7 166.6,397.6 168.8,397.1 172.1,395.4 175.3,396.0 178.6,397.6 180.8,397.6 184.1,393.8 185.7,388.9 188.4,386.2 190.1,385.1 191.7,387.7 193.5,390.0 195.8,392.3 196.9,395.7 199.2,397.4 201.5,394.6 205.0,394.6 207.3,388.8 209.0,386.5 210.7,383.0 213.1,378.4 214.2,375.0 215.9,373.8 217.7,377.3 218.8,372.7 220.0,369.2 221.1,365.7 221.7,360.0 222.3,355.4 224.6,354.2 226.3,356.0 228.0,349.6 229.8,346.2 232.5,345.9 238.4,343.7 241.3,340.8" fill="none" stroke="#0072BD" stroke-width="3.0" stroke-linejoin="round" stroke-linecap="round"/>
<g fill="#0072BD"><circle cx="25.5" cy="452.5" r="1.65"/><circle cx="26.4" cy="450.2" r="1.65"/><circle cx="30.9" cy="450.1" r="1.65"/><circle cx="35.5" cy="450.3" r="1.65"/><circle cx="39.1" cy="450.5" r="1.65"/><circle cx="40.5" cy="452.5" r="1.65"/><circle cx="42.7" cy="453" r="1.65"/><circle cx="45.5" cy="452.3" r="1.65"/><circle cx="49.1" cy="451.8" r="1.65"/><circle cx="51.8" cy="451.4" r="1.65"/><circle cx="53.2" cy="447.7" r="1.65"/><circle cx="54.5" cy="445.9" r="1.65"/><circle cx="56.4" cy="447.3" r="1.65"/><circle cx="59.1" cy="449.1" r="1.65"/><circle cx="61.8" cy="450" r="1.65"/><circle cx="64.5" cy="449.5" r="1.65"/><circle cx="66.4" cy="447.7" r="1.65"/><circle cx="68.2" cy="446.4" r="1.65"/><circle cx="70" cy="445.9" r="1.65"/><circle cx="70.5" cy="443.7" r="1.65"/><circle cx="73.3" cy="442.6" r="1.65"/><circle cx="75.4" cy="441" r="1.65"/><circle cx="76" cy="434.4" r="1.65"/><circle cx="77.6" cy="433.6" r="1.65"/><circle cx="79.8" cy="431.7" r="1.65"/><circle cx="83.3" cy="433.4" r="1.65"/><circle cx="86.5" cy="433.7" r="1.65"/><circle cx="88.7" cy="432.6" r="1.65"/><circle cx="89.3" cy="421.7" r="1.65"/><circle cx="90.9" cy="420.1" r="1.65"/><circle cx="93.1" cy="417.9" r="1.65"/><circle cx="95.3" cy="416.3" r="1.65"/><circle cx="96.4" cy="413.5" r="1.65"/><circle cx="98" cy="414.1" r="1.65"/><circle cx="99.6" cy="416.3" r="1.65"/><circle cx="100.7" cy="417.9" r="1.65"/><circle cx="100.9" cy="426.1" r="1.65"/><circle cx="101.8" cy="423.9" r="1.65"/><circle cx="103.4" cy="421.7" r="1.65"/><circle cx="104.5" cy="419" r="1.65"/><circle cx="106.2" cy="420.6" r="1.65"/><circle cx="108.4" cy="421.7" r="1.65"/><circle cx="110.5" cy="422.8" r="1.65"/><circle cx="112.7" cy="422.8" r="1.65"/><circle cx="114.9" cy="423.4" r="1.65"/><circle cx="116.5" cy="425" r="1.65"/><circle cx="118.2" cy="423.9" r="1.65"/><circle cx="120.3" cy="421.7" r="1.65"/><circle cx="122.5" cy="421.2" r="1.65"/><circle cx="124.7" cy="420.6" r="1.65"/><circle cx="126.9" cy="418.4" r="1.65"/><circle cx="129.1" cy="420.6" r="1.65"/><circle cx="131.3" cy="422.3" r="1.65"/><circle cx="133.4" cy="423.4" r="1.65"/><circle cx="135.6" cy="420.6" r="1.65"/><circle cx="137.2" cy="418.3" r="1.65"/><circle cx="139.9" cy="420" r="1.65"/><circle cx="142.6" cy="418.9" r="1.65"/><circle cx="144.8" cy="415.1" r="1.65"/><circle cx="146.5" cy="412.9" r="1.65"/><circle cx="148.1" cy="409.6" r="1.65"/><circle cx="149.2" cy="406.4" r="1.65"/><circle cx="150.8" cy="402" r="1.65"/><circle cx="152.4" cy="398.7" r="1.65"/><circle cx="155.2" cy="394.4" r="1.65"/><circle cx="156.8" cy="399.3" r="1.65"/><circle cx="158.4" cy="405.3" r="1.65"/><circle cx="160.1" cy="400.9" r="1.65"/><circle cx="162.3" cy="396" r="1.65"/><circle cx="165" cy="392.7" r="1.65"/><circle cx="166.6" cy="397.6" r="1.65"/><circle cx="168.8" cy="397.1" r="1.65"/><circle cx="172.1" cy="395.4" r="1.65"/><circle cx="175.3" cy="396" r="1.65"/><circle cx="178.6" cy="397.6" r="1.65"/><circle cx="180.8" cy="397.6" r="1.65"/><circle cx="184.1" cy="393.8" r="1.65"/><circle cx="185.7" cy="388.9" r="1.65"/><circle cx="188.4" cy="386.2" r="1.65"/><circle cx="190.1" cy="385.1" r="1.65"/><circle cx="191.7" cy="387.7" r="1.65"/><circle cx="193.5" cy="390" r="1.65"/><circle cx="195.8" cy="392.3" r="1.65"/><circle cx="196.9" cy="395.7" r="1.65"/><circle cx="199.2" cy="397.4" r="1.65"/><circle cx="201.5" cy="394.6" r="1.65"/><circle cx="205" cy="394.6" r="1.65"/><circle cx="207.3" cy="388.8" r="1.65"/><circle cx="209" cy="386.5" r="1.65"/><circle cx="210.7" cy="383" r="1.65"/><circle cx="213.1" cy="378.4" r="1.65"/><circle cx="214.2" cy="375" r="1.65"/><circle cx="215.9" cy="373.8" r="1.65"/><circle cx="217.7" cy="377.3" r="1.65"/><circle cx="218.8" cy="372.7" r="1.65"/><circle cx="220" cy="369.2" r="1.65"/><circle cx="221.1" cy="365.7" r="1.65"/><circle cx="221.7" cy="360" r="1.65"/><circle cx="222.3" cy="355.4" r="1.65"/><circle cx="224.6" cy="354.2" r="1.65"/><circle cx="226.3" cy="356" r="1.65"/><circle cx="228" cy="349.6" r="1.65"/><circle cx="229.8" cy="346.2" r="1.65"/><circle cx="232.5" cy="345.9" r="1.65"/><circle cx="238.4" cy="343.7" r="1.65"/><circle cx="241.3" cy="340.8" r="1.65"/></g>
<polyline points="23.6,337.8 113.4,393.2 164.8,381.8 183.8,376.9 203.3,376.4 212.8,360.6 222.3,353.6 228.1,350.6 231.8,346.8 235.6,343.1 238.8,339.9 240.6,336.8" fill="none" stroke="#D95319" stroke-width="1.15" stroke-linejoin="round"/>
<g fill="#D95319"><circle cx="23.6" cy="337.8" r="1.35"/><circle cx="113.4" cy="393.2" r="1.35"/><circle cx="164.8" cy="381.8" r="1.35"/><circle cx="183.8" cy="376.9" r="1.35"/><circle cx="203.3" cy="376.4" r="1.35"/><circle cx="212.8" cy="360.6" r="1.35"/><circle cx="222.3" cy="353.6" r="1.35"/><circle cx="228.1" cy="350.6" r="1.35"/><circle cx="231.8" cy="346.8" r="1.35"/><circle cx="235.6" cy="343.1" r="1.35"/><circle cx="238.8" cy="339.9" r="1.35"/><circle cx="240.6" cy="336.8" r="1.35"/></g>
<polyline points="222.3,354.2 223.7,353.0 226.2,351.2 228.1,347.5 230.6,346.2 233.7,348.1 236.9,346.5 239.4,347.5 240.6,342.4 241.3,339.3 241.9,341.2" fill="none" stroke="#7E2F8E" stroke-width="3.6" stroke-linejoin="round" stroke-linecap="round"/>
<g fill="#7E2F8E"><path d="M232.2,342.3L233.8,345.2L230.6,345.2Z"/><path d="M241.0,334.8L242.6,337.7L239.4,337.7Z"/><path d="M243.2,342.6L244.8,345.5L241.6,345.5Z"/><path d="M236.0,347.8L237.6,350.7L234.4,350.7Z"/><path d="M228.0,348.3L229.6,351.2L226.4,351.2Z"/></g>
<g fill="#EDB120"><path d="M222.4,352.1L224.0,355.0L220.8,355.0Z"/><path d="M225.0,350.3L226.6,353.2L223.4,353.2Z"/><path d="M237.5,342.8L239.1,345.7L235.9,345.7Z"/></g>
<polyline points="203.3,397.4 213.1,389.4 222.3,354.2" fill="none" stroke="#EDB120" stroke-width="1.1" stroke-linejoin="round"/>
<g fill="#EDB120"><path d="M213.1,387.7L214.7,390.6L211.5,390.6Z"/><path d="M222.3,352.5L223.9,355.4L220.7,355.4Z"/></g>
<g fill="#7E2F8E"><path d="M113.3,420.5L115.2,423.9L111.4,423.9Z"/><path d="M164.4,392.1L166.3,395.5L162.5,395.5Z"/><path d="M184.1,392.1L186.0,395.5L182.2,395.5Z"/><path d="M203.3,395.3L205.2,398.7L201.4,398.7Z"/><path d="M213.1,381.9L215.0,385.3L211.2,385.3Z"/></g>
<polyline points="23.6,452.4 113.3,422.8 164.4,394.4 184.1,394.4 196.9,395.7 203.3,397.4 207.3,391.1 210.7,387.7 213.1,384.2 216.5,375.0 219.1,366.0 222.3,354.2" fill="none" stroke="#77AC30" stroke-width="1.1" stroke-linejoin="round"/>
<polyline points="222.3,354.2 223.7,353.0 226.2,351.2 228.1,347.5 230.6,346.2 233.7,348.1 236.9,346.5 239.4,347.5 240.6,342.4 241.3,339.3 241.9,341.2" fill="none" stroke="#77AC30" stroke-width="3.0" stroke-linejoin="round" stroke-linecap="round"/>
<g font-size="5" fill="#262626" stroke="#262626" stroke-width="0.18"><text x="23.93" y="460.50" text-anchor="middle">340</text><text x="113.60" y="460.50" text-anchor="middle">200</text><text x="164.84" y="460.50" text-anchor="middle">120</text><text x="184.06" y="460.50" text-anchor="middle">90</text><text x="203.27" y="460.50" text-anchor="middle">60</text><text x="212.88" y="460.50" text-anchor="middle">45</text><text x="222.48" y="460.50" text-anchor="middle">30</text><text x="235.29" y="460.50" text-anchor="middle">10</text><text x="241.70" y="460.50" text-anchor="middle">0</text><text x="20.70" y="454.65" text-anchor="end">0</text><text x="20.70" y="431.77" text-anchor="end">0.2</text><text x="20.70" y="408.89" text-anchor="end">0.4</text><text x="20.70" y="386.01" text-anchor="end">0.6</text><text x="20.70" y="363.13" text-anchor="end">0.8</text><text x="20.70" y="340.25" text-anchor="end">1</text></g>
<text x="135.50" y="333.80" font-size="9.35" text-anchor="middle" fill="#000">South Atlantic-Turkey</text>
<text x="135.50" y="470.60" font-size="8.25" text-anchor="middle" fill="#1a1a1a">Number of Days to Flight</text>
<text x="0" y="0" font-size="8.2" text-anchor="middle" fill="#1a1a1a" transform="translate(10.00,395.00) rotate(-90)">PLF</text>
<rect x="181.3" y="416.9" width="61.9" height="31.4" fill="#fff" stroke="#262626" stroke-width="0.9"/>
<line x1="182.20" y1="420.80" x2="196.60" y2="420.80" stroke="#1f86cc" stroke-width="1.3"/>
<circle cx="189.80" cy="420.80" r="1.35" fill="#0072BD"/>
<text x="198.20" y="422.40" font-size="4.5" fill="#262626">Reservation Rate</text>
<line x1="182.20" y1="426.85" x2="196.60" y2="426.85" stroke="#D95319" stroke-width="1.3"/>
<circle cx="189.80" cy="426.85" r="1.35" fill="#D95319"/>
<text x="198.20" y="428.45" font-size="4.5" fill="#262626">Logistic Regression</text>
<line x1="182.20" y1="432.90" x2="196.60" y2="432.90" stroke="#EDB120" stroke-width="1.3"/>
<path d="M189.8,430.7L191.7,434.1L187.9,434.1Z" fill="#EDB120"/>
<text x="198.20" y="434.50" font-size="4.5" fill="#262626">Fractional Model-3</text>
<line x1="182.20" y1="438.95" x2="196.60" y2="438.95" stroke="#7E2F8E" stroke-width="1.3"/>
<path d="M189.8,436.7L191.7,440.1L187.9,440.1Z" fill="#7E2F8E"/>
<text x="198.20" y="440.55" font-size="4.5" fill="#262626">DAM</text>
<line x1="182.20" y1="445.00" x2="196.60" y2="445.00" stroke="#77AC30" stroke-width="1.3"/>
<circle cx="189.80" cy="445.00" r="0.8" fill="#77AC30"/>
<text x="198.20" y="446.60" font-size="4.5" fill="#262626">DAM-WD</text>
<path d="M319.23,338.20V452.30M408.90,338.20V452.30M460.14,338.20V452.30M479.36,338.20V452.30M498.57,338.20V452.30M508.18,338.20V452.30M517.78,338.20V452.30M524.19,338.20V452.30M530.60,338.20V452.30M535.08,338.20V452.30M537.00,338.20V452.30M318.70,439.62H542.70M318.70,426.94H542.70M318.70,414.27H542.70M318.70,401.59H542.70M318.70,388.91H542.70M318.70,376.23H542.70M318.70,363.56H542.70M318.70,350.88H542.70" stroke="#ebebeb" stroke-width="0.7" fill="none"/>
<rect x="318.70" y="338.20" width="224.00" height="114.10" fill="none" stroke="#262626" stroke-width="1.3"/>
<path d="M319.23,452.30v-2.2M319.23,338.20v2.2M408.90,452.30v-2.2M408.90,338.20v2.2M460.14,452.30v-2.2M460.14,338.20v2.2M479.36,452.30v-2.2M479.36,338.20v2.2M498.57,452.30v-2.2M498.57,338.20v2.2M508.18,452.30v-2.2M508.18,338.20v2.2M517.78,452.30v-2.2M517.78,338.20v2.2M524.19,452.30v-2.2M524.19,338.20v2.2M530.60,452.30v-2.2M530.60,338.20v2.2M535.08,452.30v-2.2M535.08,338.20v2.2M537.00,452.30v-2.2M537.00,338.20v2.2M318.70,452.30h2.2M542.70,452.30h-2.2M318.70,439.62h2.2M542.70,439.62h-2.2M318.70,426.94h2.2M542.70,426.94h-2.2M318.70,414.27h2.2M542.70,414.27h-2.2M318.70,401.59h2.2M542.70,401.59h-2.2M318.70,388.91h2.2M542.70,388.91h-2.2M318.70,376.23h2.2M542.70,376.23h-2.2M318.70,363.56h2.2M542.70,363.56h-2.2M318.70,350.88h2.2M542.70,350.88h-2.2M318.70,338.20h2.2M542.70,338.20h-2.2" stroke="#262626" stroke-width="1.0" fill="none"/>
<polyline points="393.5,443.5 393.6,422.7" fill="none" stroke="#1f86cc" stroke-width="1.2" stroke-linejoin="round"/>
<polyline points="398.0,423.5 398.7,443.8" fill="none" stroke="#1f86cc" stroke-width="1.2" stroke-linejoin="round"/>
<polyline points="400.2,443.8 400.2,416.2" fill="none" stroke="#1f86cc" stroke-width="1.2" stroke-linejoin="round"/>
<polyline points="507.7,358.9 508.9,375.3 509.5,371.6 510.0,356.2" fill="none" stroke="#1f86cc" stroke-width="1.2" stroke-linejoin="round"/>
<polyline points="320.2,453.1 322.4,452.3 325.6,451.7 327.8,451.0 330.0,452.3 332.2,453.1 334.4,452.8 335.4,450.3 337.6,449.9 342.0,449.9 345.8,449.9 346.4,446.3 350.7,445.9 355.6,445.9 357.3,447.4 361.6,447.7 363.8,447.7 364.9,445.2 369.3,444.8 373.6,444.6 374.7,443.3 378.0,443.0 380.5,443.1 381.9,441.6 383.4,443.1 393.5,443.5" fill="none" stroke="#0072BD" stroke-width="3.0" stroke-linejoin="round" stroke-linecap="round"/>
<g fill="#0072BD"><circle cx="320.2" cy="453.1" r="1.65"/><circle cx="322.4" cy="452.3" r="1.65"/><circle cx="325.6" cy="451.7" r="1.65"/><circle cx="327.8" cy="451" r="1.65"/><circle cx="330" cy="452.3" r="1.65"/><circle cx="332.2" cy="453.1" r="1.65"/><circle cx="334.4" cy="452.8" r="1.65"/><circle cx="335.4" cy="450.3" r="1.65"/><circle cx="337.6" cy="449.9" r="1.65"/><circle cx="342" cy="449.9" r="1.65"/><circle cx="345.8" cy="449.9" r="1.65"/><circle cx="346.4" cy="446.3" r="1.65"/><circle cx="350.7" cy="445.9" r="1.65"/><circle cx="355.6" cy="445.9" r="1.65"/><circle cx="357.3" cy="447.4" r="1.65"/><circle cx="361.6" cy="447.7" r="1.65"/><circle cx="363.8" cy="447.7" r="1.65"/><circle cx="364.9" cy="445.2" r="1.65"/><circle cx="369.3" cy="444.8" r="1.65"/><circle cx="373.6" cy="444.6" r="1.65"/><circle cx="374.7" cy="443.3" r="1.65"/><circle cx="378" cy="443" r="1.65"/><circle cx="380.5" cy="443.1" r="1.65"/><circle cx="381.9" cy="441.6" r="1.65"/><circle cx="383.4" cy="443.1" r="1.65"/><circle cx="393.5" cy="443.5" r="1.65"/></g>
<polyline points="393.6,422.7 395.8,422.7 398.0,423.5" fill="none" stroke="#0072BD" stroke-width="3.0" stroke-linejoin="round" stroke-linecap="round"/>
<g fill="#0072BD"><circle cx="393.6" cy="422.7" r="1.65"/><circle cx="395.8" cy="422.7" r="1.65"/><circle cx="398" cy="423.5" r="1.65"/></g>
<polyline points="398.7,443.8 400.2,443.8" fill="none" stroke="#0072BD" stroke-width="3.0" stroke-linejoin="round" stroke-linecap="round"/>
<g fill="#0072BD"><circle cx="398.7" cy="443.8" r="1.65"/><circle cx="400.2" cy="443.8" r="1.65"/></g>
<polyline points="400.2,416.2 403.1,414.7 408.9,414.0 413.3,414.7 419.1,414.4 423.5,413.3 429.3,413.3 433.6,412.5 440.9,411.8 443.3,408.7 446.5,407.6 448.7,403.3 450.9,406.0 454.2,405.4 457.4,405.4 459.6,403.3 461.8,399.4 464.5,398.9 466.7,396.2 467.8,392.9 468.9,390.2 470.5,386.4 472.7,382.5 474.9,383.1 477.1,383.6 480.3,381.5 482.0,382.0 483.6,386.4 485.8,386.4 487.4,387.4 489.6,382.0 490.7,374.4 492.7,370.3 495.5,369.4 498.2,364.4 500.0,363.0 502.7,360.7 505.5,359.4 507.7,358.9" fill="none" stroke="#0072BD" stroke-width="3.0" stroke-linejoin="round" stroke-linecap="round"/>
<g fill="#0072BD"><circle cx="400.2" cy="416.2" r="1.65"/><circle cx="403.1" cy="414.7" r="1.65"/><circle cx="408.9" cy="414" r="1.65"/><circle cx="413.3" cy="414.7" r="1.65"/><circle cx="419.1" cy="414.4" r="1.65"/><circle cx="423.5" cy="413.3" r="1.65"/><circle cx="429.3" cy="413.3" r="1.65"/><circle cx="433.6" cy="412.5" r="1.65"/><circle cx="440.9" cy="411.8" r="1.65"/><circle cx="443.3" cy="408.7" r="1.65"/><circle cx="446.5" cy="407.6" r="1.65"/><circle cx="448.7" cy="403.3" r="1.65"/><circle cx="450.9" cy="406" r="1.65"/><circle cx="454.2" cy="405.4" r="1.65"/><circle cx="457.4" cy="405.4" r="1.65"/><circle cx="459.6" cy="403.3" r="1.65"/><circle cx="461.8" cy="399.4" r="1.65"/><circle cx="464.5" cy="398.9" r="1.65"/><circle cx="466.7" cy="396.2" r="1.65"/><circle cx="467.8" cy="392.9" r="1.65"/><circle cx="468.9" cy="390.2" r="1.65"/><circle cx="470.5" cy="386.4" r="1.65"/><circle cx="472.7" cy="382.5" r="1.65"/><circle cx="474.9" cy="383.1" r="1.65"/><circle cx="477.1" cy="383.6" r="1.65"/><circle cx="480.3" cy="381.5" r="1.65"/><circle cx="482" cy="382" r="1.65"/><circle cx="483.6" cy="386.4" r="1.65"/><circle cx="485.8" cy="386.4" r="1.65"/><circle cx="487.4" cy="387.4" r="1.65"/><circle cx="489.6" cy="382" r="1.65"/><circle cx="490.7" cy="374.4" r="1.65"/><circle cx="492.7" cy="370.3" r="1.65"/><circle cx="495.5" cy="369.4" r="1.65"/><circle cx="498.2" cy="364.4" r="1.65"/><circle cx="500" cy="363" r="1.65"/><circle cx="502.7" cy="360.7" r="1.65"/><circle cx="505.5" cy="359.4" r="1.65"/><circle cx="507.7" cy="358.9" r="1.65"/></g>
<polyline points="510.0,356.2 511.8,354.4 514.1,350.7 515.5,348.9 518.2,347.5 520.0,346.2 521.8,344.4 524.5,345.3 526.4,345.7 529.0,341.5 531.9,341.5 534.1,345.9 536.3,349.5 537.0,352.5" fill="none" stroke="#0072BD" stroke-width="3.0" stroke-linejoin="round" stroke-linecap="round"/>
<g fill="#0072BD"><circle cx="510" cy="356.2" r="1.65"/><circle cx="511.8" cy="354.4" r="1.65"/><circle cx="514.1" cy="350.7" r="1.65"/><circle cx="515.5" cy="348.9" r="1.65"/><circle cx="518.2" cy="347.5" r="1.65"/><circle cx="520" cy="346.2" r="1.65"/><circle cx="521.8" cy="344.4" r="1.65"/><circle cx="524.5" cy="345.3" r="1.65"/><circle cx="526.4" cy="345.7" r="1.65"/><circle cx="529" cy="341.5" r="1.65"/><circle cx="531.9" cy="341.5" r="1.65"/><circle cx="534.1" cy="345.9" r="1.65"/><circle cx="536.3" cy="349.5" r="1.65"/><circle cx="537" cy="352.5" r="1.65"/></g>
<circle cx="508.9" cy="375.3" r="1.4" fill="#0072BD"/>
<circle cx="509.5" cy="371.6" r="1.4" fill="#0072BD"/>
<polyline points="318.7,361.0 408.9,434.8 459.8,432.5 479.5,423.2 498.5,410.8 507.9,401.6 517.7,391.2 523.9,382.3 526.4,376.2 529.1,371.6 531.4,368.0 532.7,363.5 533.6,359.8 534.5,355.3 535.5,352.5" fill="none" stroke="#D95319" stroke-width="1.15" stroke-linejoin="round"/>
<g fill="#D95319"><circle cx="318.7" cy="361" r="1.35"/><circle cx="408.9" cy="434.8" r="1.35"/><circle cx="459.8" cy="432.5" r="1.35"/><circle cx="479.5" cy="423.2" r="1.35"/><circle cx="498.5" cy="410.8" r="1.35"/><circle cx="507.9" cy="401.6" r="1.35"/><circle cx="517.7" cy="391.2" r="1.35"/><circle cx="523.9" cy="382.3" r="1.35"/><circle cx="526.4" cy="376.2" r="1.35"/><circle cx="529.1" cy="371.6" r="1.35"/><circle cx="531.4" cy="368" r="1.35"/><circle cx="532.7" cy="363.5" r="1.35"/><circle cx="533.6" cy="359.8" r="1.35"/><circle cx="534.5" cy="355.3" r="1.35"/><circle cx="535.5" cy="352.5" r="1.35"/></g>
<polyline points="517.7,349.0 520.9,345.8 523.5,343.3 527.3,342.0 530.5,343.3 533.0,345.8 534.9,348.4 536.2,350.3" fill="none" stroke="#7E2F8E" stroke-width="3.5" stroke-linejoin="round" stroke-linecap="round"/>
<g fill="#7E2F8E"><path d="M512.0,353.3L513.6,356.2L510.4,356.2Z"/><path d="M517.1,346.7L518.7,349.6L515.5,349.6Z"/><path d="M521.0,344.3L522.6,347.2L519.4,347.2Z"/><path d="M524.1,342.9L525.7,345.8L522.5,345.8Z"/><path d="M526.0,340.3L527.6,343.2L524.4,343.2Z"/><path d="M529.2,339.3L530.8,342.2L527.6,342.2Z"/><path d="M531.7,346.0L533.3,348.9L530.1,348.9Z"/><path d="M534.9,343.5L536.5,346.4L533.3,346.4Z"/><path d="M537.5,346.7L539.1,349.6L535.9,349.6Z"/><path d="M531.7,350.5L533.3,353.4L530.1,353.4Z"/><path d="M537.5,350.2L539.1,353.1L535.9,353.1Z"/><path d="M533.5,347.8L535.1,350.7L531.9,350.7Z"/></g>
<g fill="#EDB120"><path d="M523.5,340.8L525.1,343.7L521.9,343.7Z"/><path d="M519.0,345.8L520.6,348.7L517.4,348.7Z"/></g>
<g fill="#EDB120"></g>
<g fill="#7E2F8E"><path d="M408.9,411.7L410.8,415.1L407.0,415.1Z"/><path d="M460.2,401.5L462.1,404.9L458.3,404.9Z"/><path d="M480.3,380.2L482.2,383.6L478.4,383.6Z"/><path d="M498.5,366.2L500.4,369.6L496.6,369.6Z"/></g>
<polyline points="318.7,452.2 408.9,414.0 460.2,403.8 465.0,397.5 480.3,382.5 490.0,374.4 499.1,366.2 508.2,357.9 514.5,352.2 517.7,349.0" fill="none" stroke="#77AC30" stroke-width="1.1" stroke-linejoin="round"/>
<polyline points="517.7,349.0 520.9,345.8 523.5,343.3 527.3,342.0 530.5,343.3 533.0,345.8 534.9,348.4 536.2,350.3" fill="none" stroke="#77AC30" stroke-width="2.3" stroke-linejoin="round" stroke-linecap="round"/>
<path d="M536.8,382.1L538.6,385.3L535.0,385.3Z" fill="#EDB120" stroke="#7E2F8E" stroke-width="0.5"/>
<path d="M536.2,350.3L536.8,384" stroke="#77AC30" stroke-width="1.1"/>
<circle cx="536.8" cy="384" r="0.7" fill="#77AC30"/>
<g font-size="5" fill="#262626" stroke="#262626" stroke-width="0.18"><text x="319.43" y="460.60" text-anchor="middle">340</text><text x="409.10" y="460.60" text-anchor="middle">200</text><text x="460.34" y="460.60" text-anchor="middle">120</text><text x="479.56" y="460.60" text-anchor="middle">90</text><text x="498.77" y="460.60" text-anchor="middle">60</text><text x="508.38" y="460.60" text-anchor="middle">45</text><text x="517.99" y="460.60" text-anchor="middle">30</text><text x="530.80" y="460.60" text-anchor="middle">10</text><text x="537.20" y="460.60" text-anchor="middle">0</text><text x="315.80" y="454.75" text-anchor="end">0</text><text x="315.80" y="442.07" text-anchor="end">0.1</text><text x="315.80" y="429.39" text-anchor="end">0.2</text><text x="315.80" y="416.72" text-anchor="end">0.3</text><text x="315.80" y="404.04" text-anchor="end">0.4</text><text x="315.80" y="391.36" text-anchor="end">0.5</text><text x="315.80" y="378.68" text-anchor="end">0.6</text><text x="315.80" y="366.01" text-anchor="end">0.7</text><text x="315.80" y="353.33" text-anchor="end">0.8</text><text x="315.80" y="340.65" text-anchor="end">0.9</text></g>
<text x="430.70" y="334.20" font-size="9.35" text-anchor="middle" fill="#000">Turkey-South Atlantic</text>
<text x="430.70" y="470.70" font-size="8.25" text-anchor="middle" fill="#1a1a1a">Number of Days to Flight</text>
<text x="0" y="0" font-size="8.2" text-anchor="middle" fill="#1a1a1a" transform="translate(305.10,395.25) rotate(-90)">PLF</text>
<rect x="403.8" y="342.8" width="61.9" height="31.4" fill="#fff" stroke="#262626" stroke-width="0.9"/>
<line x1="404.70" y1="346.70" x2="419.10" y2="346.70" stroke="#1f86cc" stroke-width="1.3"/>
<circle cx="412.30" cy="346.70" r="1.35" fill="#0072BD"/>
<text x="420.70" y="348.30" font-size="4.5" fill="#262626">Reservation Rate</text>
<line x1="404.70" y1="352.75" x2="419.10" y2="352.75" stroke="#D95319" stroke-width="1.3"/>
<circle cx="412.30" cy="352.75" r="1.35" fill="#D95319"/>
<text x="420.70" y="354.35" font-size="4.5" fill="#262626">Logistic Regression</text>
<line x1="404.70" y1="358.80" x2="419.10" y2="358.80" stroke="#EDB120" stroke-width="1.3"/>
<path d="M412.3,356.6L414.2,360.0L410.4,360.0Z" fill="#EDB120"/>
<text x="420.70" y="360.40" font-size="4.5" fill="#262626">Fractional Model-3</text>
<line x1="404.70" y1="364.85" x2="419.10" y2="364.85" stroke="#7E2F8E" stroke-width="1.3"/>
<path d="M412.3,362.6L414.2,366.0L410.4,366.0Z" fill="#7E2F8E"/>
<text x="420.70" y="366.45" font-size="4.5" fill="#262626">DAM</text>
<line x1="404.70" y1="370.90" x2="419.10" y2="370.90" stroke="#77AC30" stroke-width="1.3"/>
<circle cx="412.30" cy="370.90" r="0.8" fill="#77AC30"/>
<text x="420.70" y="372.50" font-size="4.5" fill="#262626">DAM-WD</text>
</svg></body></html>
